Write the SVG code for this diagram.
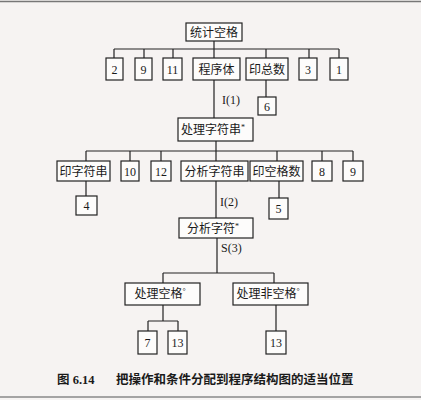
<svg xmlns="http://www.w3.org/2000/svg" width="421" height="400" viewBox="0 0 421 400">
<style>
.b{fill:#fdfcfb;stroke:#222;stroke-width:1.2}
.t{font-family:"Liberation Serif","Noto Sans CJK SC",serif;font-size:12px;fill:#1a1a1a;text-anchor:middle}
.l{font-family:"Liberation Serif",serif;font-size:12px;fill:#1a1a1a}
.c{fill:none;stroke:#222;stroke-width:1.2}
.cap{font-family:"Liberation Serif","Noto Sans CJK SC",serif;font-size:12.5px;font-weight:bold;fill:#1a1a1a}
</style>
<rect width="421" height="400" fill="#f6f3f2"/>
<line x1="0" y1="1.5" x2="421" y2="1.5" stroke="#777" stroke-width="1.5"/>
<line x1="0" y1="397" x2="421" y2="397" stroke="#888" stroke-width="1.5"/>
<g id="connectors">
<path class="c" d="M214 41V49M114 49H339M114 49V58M144 49V58M173 49V58M214 49V58M266 49V58M309 49V58M339 49V58"/>
<path class="c" d="M214 80V118M266 80V97"/>
<path class="c" d="M216 141V151M86 151H353M86 151V161M130 151V161M161 151V161M216 151V161M277 151V161M322 151V161M353 151V161"/>
<path class="c" d="M86 181V196M279 181V198M216 181V218"/>
<path class="c" d="M217 238V273M163 273H274M163 273V283M274 273V283"/>
<path class="c" d="M163 305V321M148 321H178M148 321V331M178 321V331M276 305V331"/>
</g>
<g id="n-root"><rect class="b" x="186" y="23" width="56" height="18"/><text class="t" x="214" y="37">统计空格</text></g>
<g id="n-2"><rect class="b" x="106" y="58" width="17" height="22"/><text class="t" x="114.5" y="74">2</text></g>
<g id="n-9a"><rect class="b" x="135" y="58" width="17" height="22"/><text class="t" x="143.5" y="74">9</text></g>
<g id="n-11"><rect class="b" x="163" y="58" width="19" height="22"/><text class="t" x="172.5" y="74">11</text></g>
<g id="n-body"><rect class="b" x="193" y="58" width="47" height="22"/><text class="t" x="216.5" y="74">程序体</text></g>
<g id="n-total"><rect class="b" x="246" y="58" width="42" height="22"/><text class="t" x="267" y="74">印总数</text></g>
<g id="n-3"><rect class="b" x="299" y="58" width="18" height="22"/><text class="t" x="308" y="74">3</text></g>
<g id="n-1"><rect class="b" x="330" y="58" width="18" height="22"/><text class="t" x="339" y="74">1</text></g>
<text class="l" x="222" y="104">I(1)</text>
<g id="n-6"><rect class="b" x="258" y="97" width="18" height="18"/><text class="t" x="267" y="111">6</text></g>
<g id="n-procstr"><rect class="b" x="178" y="118" width="75" height="23"/><text class="t" x="213" y="134">处理字符串<tspan font-size="8" dy="-4">*</tspan></text></g>
<g id="n-printstr"><rect class="b" x="57" y="161" width="53" height="20"/><text class="t" x="83.5" y="176">印字符串</text></g>
<g id="n-10"><rect class="b" x="121" y="161" width="18" height="20"/><text class="t" x="130" y="176">10</text></g>
<g id="n-12"><rect class="b" x="151" y="161" width="20" height="20"/><text class="t" x="161" y="176">12</text></g>
<g id="n-anastr"><rect class="b" x="181" y="161" width="67" height="20"/><text class="t" x="214.5" y="176">分析字符串</text></g>
<g id="n-printsp"><rect class="b" x="250" y="161" width="53" height="20"/><text class="t" x="276.5" y="176">印空格数</text></g>
<g id="n-8"><rect class="b" x="312" y="161" width="20" height="20"/><text class="t" x="322" y="176">8</text></g>
<g id="n-9b"><rect class="b" x="343" y="161" width="20" height="20"/><text class="t" x="353" y="176">9</text></g>
<g id="n-4"><rect class="b" x="76" y="196" width="21" height="19"/><text class="t" x="86.5" y="210">4</text></g>
<g id="n-5"><rect class="b" x="269" y="198" width="19" height="21"/><text class="t" x="278.5" y="213">5</text></g>
<text class="l" x="220" y="206">I(2)</text>
<g id="n-anach"><rect class="b" x="179" y="218" width="74" height="20"/><text class="t" x="213" y="233">分析字符<tspan font-size="8" dy="-4">*</tspan></text></g>
<text class="l" x="221" y="252">S(3)</text>
<g id="n-procsp"><rect class="b" x="125" y="283" width="75" height="22"/><text class="t" x="160" y="298">处理空格<tspan font-size="8" dy="-4">°</tspan></text></g>
<g id="n-procnsp"><rect class="b" x="233" y="283" width="75" height="22"/><text class="t" x="268" y="298">处理非空格<tspan font-size="8" dy="-4">°</tspan></text></g>
<g id="n-7"><rect class="b" x="138" y="331" width="19" height="23"/><text class="t" x="147.5" y="347">7</text></g>
<g id="n-13a"><rect class="b" x="168" y="331" width="19" height="23"/><text class="t" x="177.5" y="347">13</text></g>
<g id="n-13b"><rect class="b" x="266" y="331" width="20" height="23"/><text class="t" x="276" y="347">13</text></g>
<text class="cap" x="57" y="384">图 6.14<tspan x="116">把操作和条件分配到程序结构图的适当位置</tspan></text>
</svg>
